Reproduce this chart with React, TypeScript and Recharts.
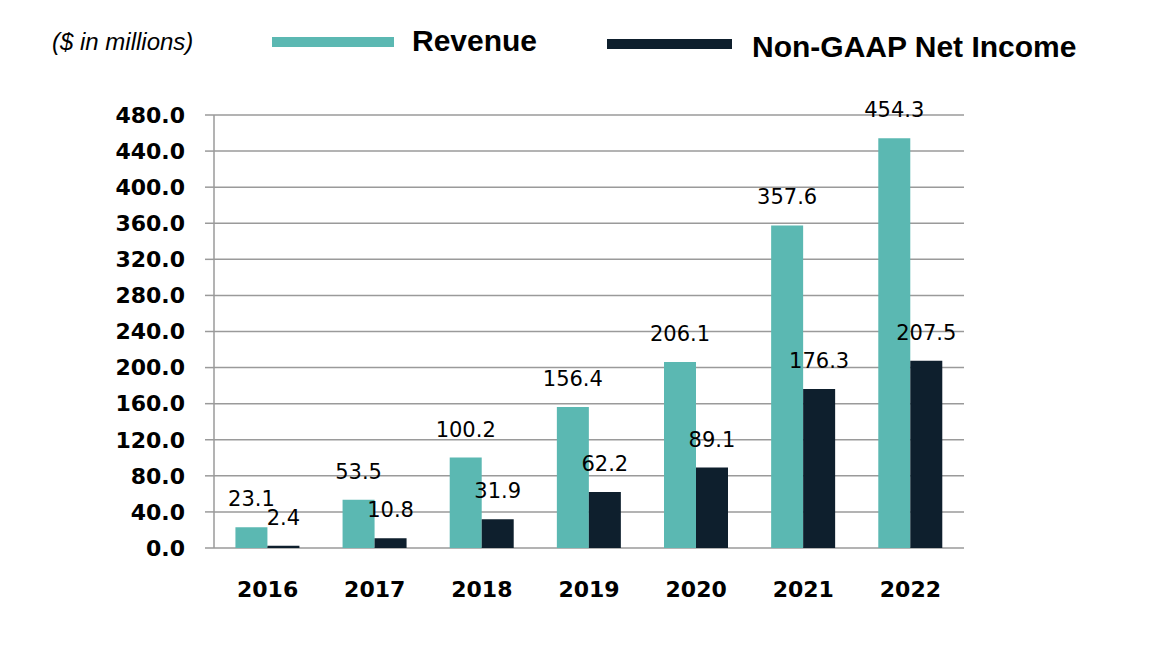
import React from "react";
import { BarChart, Bar, XAxis, YAxis, CartesianGrid, LabelList } from "recharts";

const years = ["2016", "2017", "2018", "2019", "2020", "2021", "2022"];
const revenue = [23.1, 53.5, 100.2, 156.4, 206.1, 357.6, 454.3];
const netIncome = [2.4, 10.8, 31.9, 62.2, 89.1, 176.3, 207.5];
const yTicks = [0, 40, 80, 120, 160, 200, 240, 280, 320, 360, 400, 440, 480];
const edgeTicks = [0, 1, 2, 3, 4, 5, 6, 7];

const data = years.map((year, i) => ({ year, revenue: revenue[i], netIncome: netIncome[i] }));

const TEAL = "#5BB8B2";
const NAVY = "#0E1F2D";
const GRID = "#9a9a9a";
const LABEL_FONT = "'DejaVu Sans', Verdana, sans-serif";

function Header() {
    const sans = "'Liberation Sans', Arial, sans-serif";
    return (
        <div style={{ position: "absolute", left: 0, top: 0, width: 1152, height: 84, fontFamily: sans, color: "#000" }}>
            <div style={{ position: "absolute", left: 52, top: 28, fontStyle: "italic", fontSize: 24 }}>($ in millions)</div>
            <div style={{ position: "absolute", left: 272, top: 37, width: 122, height: 10, background: TEAL }} />
            <div style={{ position: "absolute", left: 412, top: 24, fontWeight: "bold", fontSize: 30 }}>Revenue</div>
            <div style={{ position: "absolute", left: 607, top: 39, width: 125, height: 10, background: NAVY }} />
            <div style={{ position: "absolute", left: 752, top: 30, fontWeight: "bold", fontSize: 30 }}>Non-GAAP Net Income</div>
        </div>
    );
}

export default function App() {
    return (
        <div style={{ position: "absolute", left: 0, top: 0, width: 1152, height: 648, background: "#fff" }}>
            <BarChart
                width={1152}
                height={648}
                data={data}
                margin={{ top: 115, right: 188, left: 0, bottom: 40 }}
                barCategoryGap="20%"
                barGap={0}
            >
                <CartesianGrid horizontal={true} vertical={false} stroke={GRID} strokeWidth={1.5} />
                <XAxis
                    xAxisId="edge"
                    type="number"
                    domain={[0, 7]}
                    ticks={edgeTicks}
                    height={0}
                    tickSize={9}
                    tickFormatter={() => ""}
                    axisLine={{ stroke: GRID, strokeWidth: 1.5 }}
                    tickLine={{ stroke: GRID, strokeWidth: 1.5 }}
                />
                <XAxis
                    dataKey="year"
                    height={60}
                    axisLine={false}
                    tickLine={false}
                    tickMargin={27}
                    tick={{ fontFamily: LABEL_FONT, fontWeight: "bold", fontSize: 22, fill: "#000" }}
                />
                <YAxis
                    width={214}
                    domain={[0, 480]}
                    ticks={yTicks}
                    interval={0}
                    tickSize={9}
                    tickMargin={20}
                    tickFormatter={(v: number) => v.toFixed(1)}
                    axisLine={{ stroke: GRID, strokeWidth: 1.5 }}
                    tickLine={{ stroke: GRID, strokeWidth: 1.5 }}
                    tick={{ fontFamily: LABEL_FONT, fontWeight: "bold", fontSize: 22, fill: "#000" }}
                />
                <Bar dataKey="revenue" name="Revenue" fill={TEAL} isAnimationActive={false}>
                    <LabelList dataKey="revenue" position="top" offset={21} formatter={(v: any) => Number(v).toFixed(1)}
                        style={{ fontFamily: LABEL_FONT, fontSize: 21, fill: "#000" }} />
                </Bar>
                <Bar dataKey="netIncome" name="Non-GAAP Net Income" fill={NAVY} isAnimationActive={false}>
                    <LabelList dataKey="netIncome" position="top" offset={21} formatter={(v: any) => Number(v).toFixed(1)}
                        style={{ fontFamily: LABEL_FONT, fontSize: 21, fill: "#000" }} />
                </Bar>
            </BarChart>
            <Header />
        </div>
    );
}
